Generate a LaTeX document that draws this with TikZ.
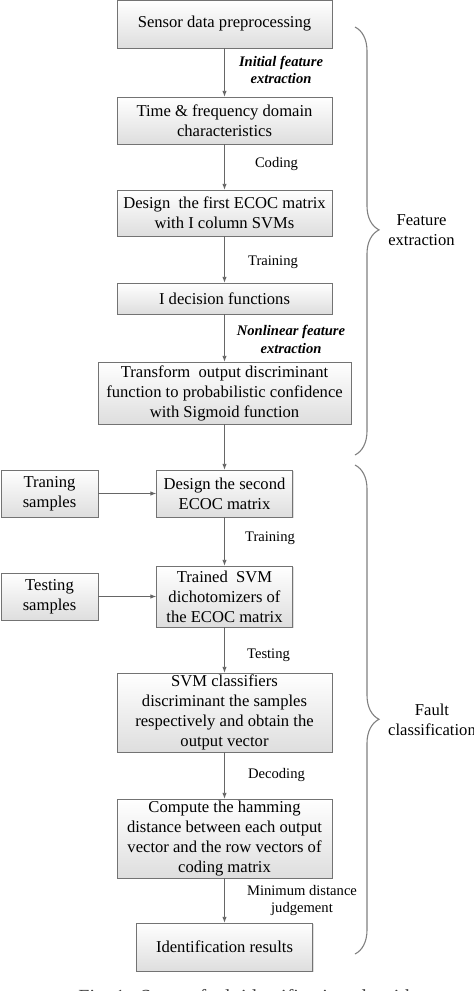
\documentclass[tikz,border=0pt]{standalone}
\usepackage{fontspec}
\setmainfont{Liberation Serif}
\usepackage{tikz}
\usetikzlibrary
  {
    arrows.meta,              % arrow heads
    decorations.pathreplacing,% curly braces
    shadows,                  % soft shadow under the boxes
  }

\begin{document}
\begin{tikzpicture}
    [
      x=1pt, y=-1pt,
      process/.style=
        {
          rectangle,
          draw=black!55,
          top color=white,
          bottom color=black!13,
          drop shadow={shadow xshift=1pt, shadow yshift=-1pt, opacity=0.25},
          inner sep=0pt,
          align=center,
          font=\fontsize{16.6}{20}\selectfont,
        },
      note/.style=
        {
          inner sep=0pt,
          align=center,
          font=\fontsize{14.6}{17.5}\selectfont,
        },
      keynote/.style=
        {
          note,
          font=\fontsize{14.6}{17.5}\selectfont\bfseries\itshape,
        },
      flow/.style=
        {
          draw=black!60,
          line width=0.9pt,
          -{Latex[length=6pt,width=4.5pt]},
        },
      bracket/.style=
        {
          draw=black!50,
          line width=1.1pt,
          decorate,
          decoration={brace, amplitude=24pt, aspect=#1},
        },
      side/.style=
        {
          inner sep=0pt,
          align=center,
          font=\fontsize{16.6}{20}\selectfont,
        },
    ]
    \useasboundingbox (0,0) rectangle (474,991);
    \clip (0,0) rectangle (474,991);

    % main chain
    \node[process, minimum width=215pt, minimum height=48pt] (preprocess) at (224.5, 24)   {Sensor data preprocessing};
    \node[process, minimum width=215pt, minimum height=47pt] (timefreq)   at (224.5,120.5) {Time \& frequency domain\\characteristics};
    \node[process, minimum width=215pt, minimum height=46pt] (ecoc first) at (224.5,213)   {Design\ \ the first ECOC matrix\\with I column SVMs};
    \node[process, minimum width=215pt, minimum height=31pt] (decision)   at (224.5,298.5) {I decision functions};
    \node[process, minimum width=253pt, minimum height=62pt] (sigmoid)    at (224.5,393)   {Transform\ \ output discriminant\\function to probabilistic confidence\\with Sigmoid function};
    \node[process, minimum width=136pt, minimum height=47pt] (ecoc second) at (224.5,493.5) {Design the second\\ECOC matrix};
    \node[process, minimum width=136pt, minimum height=61pt] (trained)    at (224.5,596.5) {Trained\ \ SVM\\dichotomizers of\\the ECOC matrix};
    \node[process, minimum width=215pt, minimum height=79pt] (classify)   at (224.5,712.5) {SVM classifiers\\discriminant the samples\\respectively and obtain the\\output vector};
    \node[process, minimum width=215pt, minimum height=79pt] (hamming)    at (224.5,838.5) {Compute the hamming\\distance between each output\\vector and the row vectors of\\coding matrix};
    \node[process, minimum width=176pt, minimum height=48pt] (result)     at (224.5,947)   {Identification results};

    % inputs on the left
    \node[process, minimum width=97pt, minimum height=47pt] (train samples) at (49.5,493.5) {Traning\\samples};
    \node[process, minimum width=97pt, minimum height=47pt] (test samples)  at (49.5,596.5) {Testing\\samples};

    % connectors
    \draw[flow] (preprocess)  -- (timefreq);
    \draw[flow] (timefreq)    -- (ecoc first);
    \draw[flow] (ecoc first)  -- (decision);
    \draw[flow] (decision)    -- (sigmoid);
    \draw[flow] (sigmoid)     -- (ecoc second);
    \draw[flow] (ecoc second) -- (trained);
    \draw[flow] (trained)     -- (classify);
    \draw[flow] (classify)    -- (hamming);
    \draw[flow] (hamming)     -- (result);
    \draw[flow] (train samples) -- (ecoc second);
    \draw[flow] (test samples)  -- (trained);

    % step labels
    \node[keynote] (initial)   at (281,70)    {Initial feature\\extraction};
    \node[note]    (coding)    at (276.5,164) {Coding};
    \node[note]    (training a) at (273,262)  {Training};
    \node[keynote] (nonlinear) at (291,339.5) {Nonlinear feature\\extraction};
    \node[note]    (training b) at (270,538)  {Training};
    \node[note]    (testing)   at (268.5,655) {Testing};
    \node[note]    (decoding)  at (276.5,775) {Decoding};
    \node[note]    (judgement) at (302,900.5) {Minimum distance\\judgement};

    % stage braces
    \draw[bracket=0.474] (355,27) -- (355,455);
    \draw[bracket=0.52]  (355,465) -- (355,954);
    \node[side] (feature stage) at (421.5,230) {Feature\\extraction};
    \node[side, anchor=west] (fault stage) at (388,720) {Fault\\classification};

    % caption, cut by the frame
    \node[inner sep=0pt, anchor=base, text=black!75,
          font=\fontsize{20}{24}\selectfont] (caption) at (254.5,1003)
      {Fig.\ 1.\ \ Sensor fault identification algorithm};
  \end{tikzpicture}
\end{document}
